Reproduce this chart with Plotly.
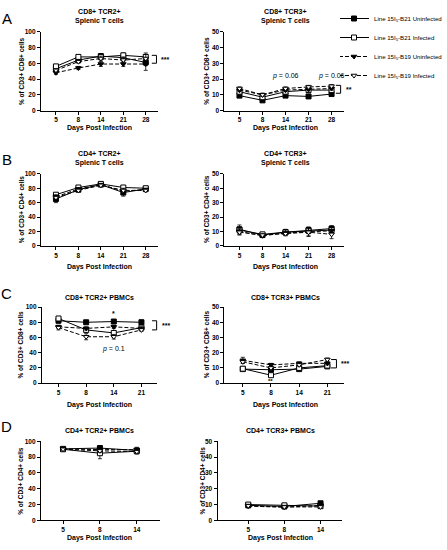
import plotly.graph_objects as go

# days on the x axis
days_spleen = ["5", "8", "14", "21", "28"]
days_pbmc_c = ["5", "8", "14", "21"]
days_pbmc_d = ["5", "8", "14"]

series_names = [
    "Line 15I<sub>5</sub>-B21 Uninfected",
    "Line 15I<sub>5</sub>-B21 Infected",
    "Line 15I<sub>5</sub>-B19 Uninfected",
    "Line 15I<sub>5</sub>-B19 Infected",
]

# means per series (B21 uninf, B21 inf, B19 uninf, B19 inf) and error bars
a_tcr2_mean = [[53, 64, 69, 67, 61], [56, 68, 68, 70, 68], [48, 54, 59, 59, 59], [51, 62, 66, 64, 66]]
a_tcr2_err = [[2, 2, 3, 3, 4], [2, 2, 3, 3, 5], [2, 2, 3, 3, 8], [2, 2, 3, 4, 5]]
a_tcr3_mean = [[9.5, 6.5, 9.5, 9, 10.5], [12, 8.5, 12, 13, 13], [13, 10, 13, 13.5, 14], [14, 10, 14, 15, 15.5]]
a_tcr3_err = [[1, 1, 1, 1, 1], [1, 1, 1, 1, 1], [1, 1, 1, 1, 1], [1, 1, 1, 1, 1]]

b_tcr2_mean = [[65, 78, 85, 74, 79], [71, 81, 86, 81, 80], [68, 79, 85, 76, 78], [67, 77, 84, 77, 77]]
b_tcr2_err = [[5, 2, 2, 5, 2], [2, 2, 1, 2, 2], [3, 2, 1, 3, 2], [3, 2, 1, 3, 2]]
b_tcr3_mean = [[11.5, 7.5, 9.5, 11, 12], [11, 8, 9.5, 10.5, 11], [10, 7, 9, 10, 10.5], [9.5, 7.5, 8.5, 9.5, 8]]
b_tcr3_err = [[3, 1, 1, 2, 2], [2, 1, 2, 2, 2], [2, 1, 2, 3, 2], [2, 1, 1, 3, 3]]

c_tcr2_mean = [[82, 80, 81, 80], [85, 70, 66, 73], [74, 72, 74, 72], [73, 61, 61, 70]]
c_tcr2_err = [[2, 2, 2, 3], [2, 3, 3, 3], [2, 2, 2, 2], [3, 4, 3, 2]]
c_tcr3_mean = [[9.2, 8.8, 9.2, 11], [9.5, 5.2, 10, 11.5], [15, 12, 13, 13], [14, 10, 12, 15.5]]
c_tcr3_err = [[1, 1, 1, 1], [1, 1, 1, 1], [2, 1, 1, 1], [1, 2, 1, 1]]

d_tcr2_mean = [[90.5, 91.5, 88.5], [90, 85, 87.5], [90.5, 89.5, 89.5], [90, 88, 87]]
d_tcr2_err = [[1, 1, 2], [1, 7, 2], [1, 2, 3], [1, 2, 3]]
d_tcr3_mean = [[9.5, 8.8, 10.8], [10, 9.5, 9], [9, 8.3, 9.5], [9.2, 8.5, 8.5]]
d_tcr3_err = [[1, 1, 1], [1, 1, 1], [1, 1, 1], [1, 1, 1]]

W, H = 447, 550
FONT = "Liberation Sans, Arial, sans-serif"


def px(x):
    return x / W


def py(y):
    return 1 - y / H


# line / marker style for each series
styles = [
    dict(dash="solid", symbol="square", fill="black"),
    dict(dash="solid", symbol="square", fill="white"),
    dict(dash="4px,2px", symbol="triangle-down", fill="black"),
    dict(dash="4px,2px", symbol="triangle-down", fill="white"),
]

# panel: axis number, days, means, errors, y max, pixel box (x0, x1, ytop, ybottom), x range
panels = [
    (1, days_spleen, a_tcr2_mean, a_tcr2_err, 100, (41, 158, 28, 108), [-0.67, 4.53]),
    (2, days_spleen, a_tcr3_mean, a_tcr3_err, 50, (225, 345, 28, 108), [-0.65, 4.55]),
    (3, days_spleen, b_tcr2_mean, b_tcr2_err, 100, (41, 158, 172, 245), [-0.67, 4.53]),
    (4, days_spleen, b_tcr3_mean, b_tcr3_err, 50, (225, 345, 172, 245), [-0.65, 4.55]),
    (5, days_pbmc_c, c_tcr2_mean, c_tcr2_err, 100, (42, 157, 307, 384), [-0.6, 3.55]),
    (6, days_pbmc_c, c_tcr3_mean, c_tcr3_err, 50, (225, 345, 307, 384), [-0.65, 3.6]),
    (7, days_pbmc_d, d_tcr2_mean, d_tcr2_err, 100, (41, 160, 443, 523), [-0.6, 2.62]),
    (8, days_pbmc_d, d_tcr3_mean, d_tcr3_err, 50, (218, 343, 443, 523), [-0.85, 2.6]),
]

fig = go.Figure()
layout = {}
for n, days, means, errs, ymax, box, xr in panels:
    sfx = "" if n == 1 else str(n)
    for i in range(4):
        st = styles[i]
        fig.add_trace(go.Scatter(
            x=days, y=means[i], name=series_names[i],
            xaxis="x" + sfx, yaxis="y" + sfx,
            mode="lines+markers",
            showlegend=(n == 1),
            line=dict(color="black", width=1, dash=st["dash"]),
            marker=dict(symbol=st["symbol"], size=5, color=st["fill"],
                        line=dict(color="black", width=1)),
            error_y=dict(type="data", array=errs[i], color="black", thickness=0.8, width=2),
        ))
    x0, x1, yt, yb = box
    ax = dict(showline=True, linecolor="black", linewidth=1, ticks="outside",
              ticklen=3, tickwidth=1, tickcolor="black", showgrid=False, zeroline=False,
              tickfont=dict(family=FONT, size=6.5, color="black", weight="bold"))
    layout["xaxis" + sfx] = dict(ax, domain=[px(x0), px(x1)], anchor="y" + sfx,
                                 type="category", range=xr)
    layout["yaxis" + sfx] = dict(ax, domain=[py(yb), py(yt)], anchor="x" + sfx,
                                 range=[0, ymax], dtick=ymax / 5)

ann = []


def text(x, y, s, size=7, bold=True, angle=0, xref="paper", yref="paper", xanchor="center"):
    ann.append(dict(x=x, y=y, xref=xref, yref=yref, text=("<b>%s</b>" % s) if bold else s,
                    showarrow=False, textangle=angle, xanchor=xanchor, yanchor="middle",
                    font=dict(family=FONT, size=size, color="black")))


# panel letters
for letter, y in [("A", 15), ("B", 157), ("C", 293), ("D", 428)]:
    text(px(7), py(y), letter, size=15, bold=False)

# panel titles
text(px(100), py(13), "CD8+ TCR2+<br>Splenic T cells", size=7)
text(px(286), py(13), "CD8+ TCR3+<br>Splenic T cells", size=7)
text(px(100), py(156), "CD4+ TCR2+<br>Splenic T cells", size=7)
text(px(286), py(156), "CD4+ TCR3+<br>Splenic T cells", size=7)
text(px(100), py(297), "CD8+ TCR2+ PBMCs", size=7)
text(px(286), py(297), "CD8+ TCR3+ PBMCs", size=7)
text(px(100), py(432), "CD4+ TCR2+ PBMCs", size=7)
text(px(281), py(432), "CD4+ TCR3+ PBMCs", size=7)

# x axis titles
for xc, y in [(100, 126), (286, 126), (100, 266), (286, 266), (100, 406), (286, 406), (100, 541), (281, 541)]:
    text(px(xc), py(y), "Days Post Infection", size=7)

# y axis titles
for xc, yc, s in [(21, 68, "% of CD3+ CD8+ cells"), (207, 68, "% of CD3+ CD8+ cells"),
                  (21, 208, "% of CD3+ CD4+ cells"), (207, 208, "% of CD3+ CD4+ cells"),
                  (21, 345, "% of CD3+ CD8+ cells"), (207, 345, "% of CD3+ CD8+ cells"),
                  (21, 483, "% of CD3+ CD4+ cells"), (203, 483, "% of CD3+ CD4+ cells")]:
    text(px(xc), py(yc), s, size=6.5, angle=-90)

# significance marks
shapes = []


def bracket(n, xa, xb, ylo, yhi, label):
    sfx = "" if n == 1 else str(n)
    xref, yref = "x%s domain" % sfx, "y" + sfx
    for sx0, sy0, sx1, sy1 in [(xa, yhi, xb, yhi), (xb, yhi, xb, ylo), (xa, ylo, xb, ylo)]:
        shapes.append(dict(type="line", xref=xref, yref=yref, x0=sx0, y0=sy0, x1=sx1, y1=sy1,
                           line=dict(color="black", width=1)))
    text(xb + 0.025, (ylo + yhi) / 2, label, size=7, bold=True, xref=xref, yref=yref, xanchor="left")


bracket(1, 0.95, 0.99, 60, 70, "***")
bracket(2, 0.93, 0.97, 11, 16, "**")
bracket(5, 0.96, 1.0, 70, 82, "***")
bracket(6, 0.89, 0.935, 10, 15.5, "***")

# category index positions: day 8 -> 1, day 14 -> 2, day 28 -> 4
text(2, 22, "<i>p</i> = 0.06", size=7, bold=False, xref="x2", yref="y2")
text(4, 22, "<i>p</i> = 0.06", size=7, bold=False, xref="x2", yref="y2")
text(2, 91, "*", size=7, bold=True, xref="x5", yref="y5")
text(2, 45, "<i>p</i> = 0.1", size=7, bold=False, xref="x5", yref="y5")
text(1, 1.5, "**", size=6, bold=True, xref="x6", yref="y6")

fig.update_layout(
    layout,
    width=W, height=H,
    margin=dict(l=0, r=0, t=0, b=0),
    paper_bgcolor="white", plot_bgcolor="white",
    font=dict(family=FONT, color="black"),
    annotations=ann, shapes=shapes,
    legend=dict(x=px(341), y=1.0, xanchor="left", yanchor="top",
                font=dict(family=FONT, size=6.1, color="black"),
                itemwidth=30, indentation=-6, bgcolor="rgba(0,0,0,0)", tracegroupgap=0),
)

# drop the default page margin so the 447x550 figure fills the window
fig.write_html("out.html", config={"displayModeBar": False},
               post_script="document.body.style.margin='0';")
